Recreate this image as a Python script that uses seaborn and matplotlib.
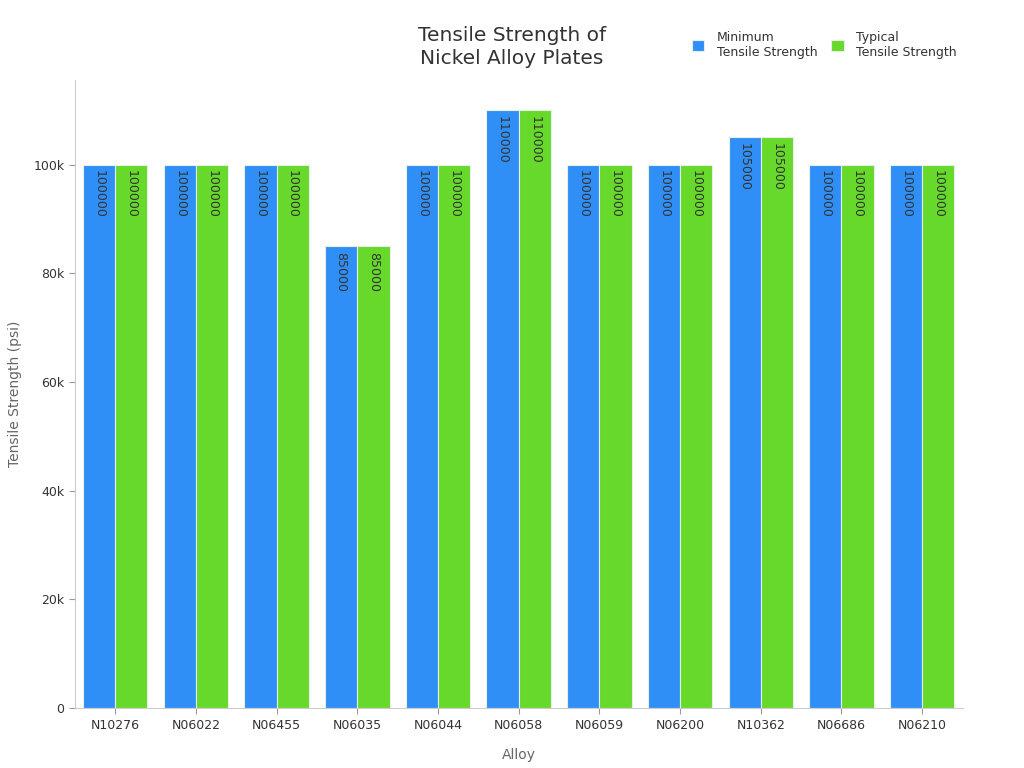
import pandas as pd
import matplotlib
matplotlib.use("Agg")
import matplotlib.pyplot as plt
import seaborn as sns

alloys = ['N10276', 'N06022', 'N06455', 'N06035', 'N06044', 'N06058',
          'N06059', 'N06200', 'N10362', 'N06686', 'N06210']
min_tensile = [100000, 100000, 100000, 85000, 100000, 110000,
               100000, 100000, 105000, 100000, 100000]
typ_tensile = [100000, 100000, 100000, 85000, 100000, 110000,
               100000, 100000, 105000, 100000, 100000]
series_names = ['Minimum\nTensile Strength', 'Typical\nTensile Strength']
colors = ['#2f8ff7', '#66d92a']

df = pd.DataFrame({
    'Alloy': alloys * 2,
    'value': min_tensile + typ_tensile,
    'series': [series_names[0]] * len(alloys) + [series_names[1]] * len(alloys),
})

sns.set_style("white")
plt.rcParams['font.family'] = ['DejaVu Sans']

fig = plt.figure(figsize=(10.24, 7.68), dpi=100)
ax = fig.add_axes([0.073, 0.078, 0.867, 0.818])

sns.barplot(data=df, x='Alloy', y='value', hue='series', palette=colors,
            width=0.8, edgecolor='#e6f0e6', linewidth=0.8, saturation=1,
            ax=ax, legend=True)

# value labels, rotated, just inside the top of each bar
for cont in ax.containers:
    for bar, v in zip(cont.patches, cont.datavalues):
        ax.annotate(str(int(v)), (bar.get_x() + bar.get_width() / 2, bar.get_height()),
                    xytext=(0, -4), textcoords='offset points', rotation=-90,
                    ha='center', va='top', fontsize=9, color='#333333')

ax.set_xlim(-0.5, 10.5)
ax.set_ylim(0, 115600)
ax.set_yticks([0, 20000, 40000, 60000, 80000, 100000])
ax.set_yticklabels(['0', '20k', '40k', '60k', '80k', '100k'])
ax.tick_params(axis='both', labelsize=9, colors='#333333', length=4,
               color='#999999', left=True, bottom=True)
ax.set_xlabel('Alloy', fontsize=10, color='#666666', labelpad=12)
ax.set_ylabel('Tensile Strength (psi)', fontsize=10, color='#666666', labelpad=8)

for side in ['top', 'right']:
    ax.spines[side].set_visible(False)
for side in ['left', 'bottom']:
    ax.spines[side].set_color('#cccccc')

fig.text(0.5, 0.939, 'Tensile Strength of\nNickel Alloy Plates', ha='center',
         va='center', fontsize=14.5, color='#333333', linespacing=1.3)

handles, labels = ax.get_legend_handles_labels()
ax.get_legend().remove()
fig.legend(handles, labels, loc='center', bbox_to_anchor=(0.805, 0.942),
           ncol=2, frameon=False, fontsize=9, handlelength=1.0,
           handleheight=1.0, columnspacing=1.1, handletextpad=1.0,
           labelcolor='#333333')

plt.savefig('out.png', dpi=100)
